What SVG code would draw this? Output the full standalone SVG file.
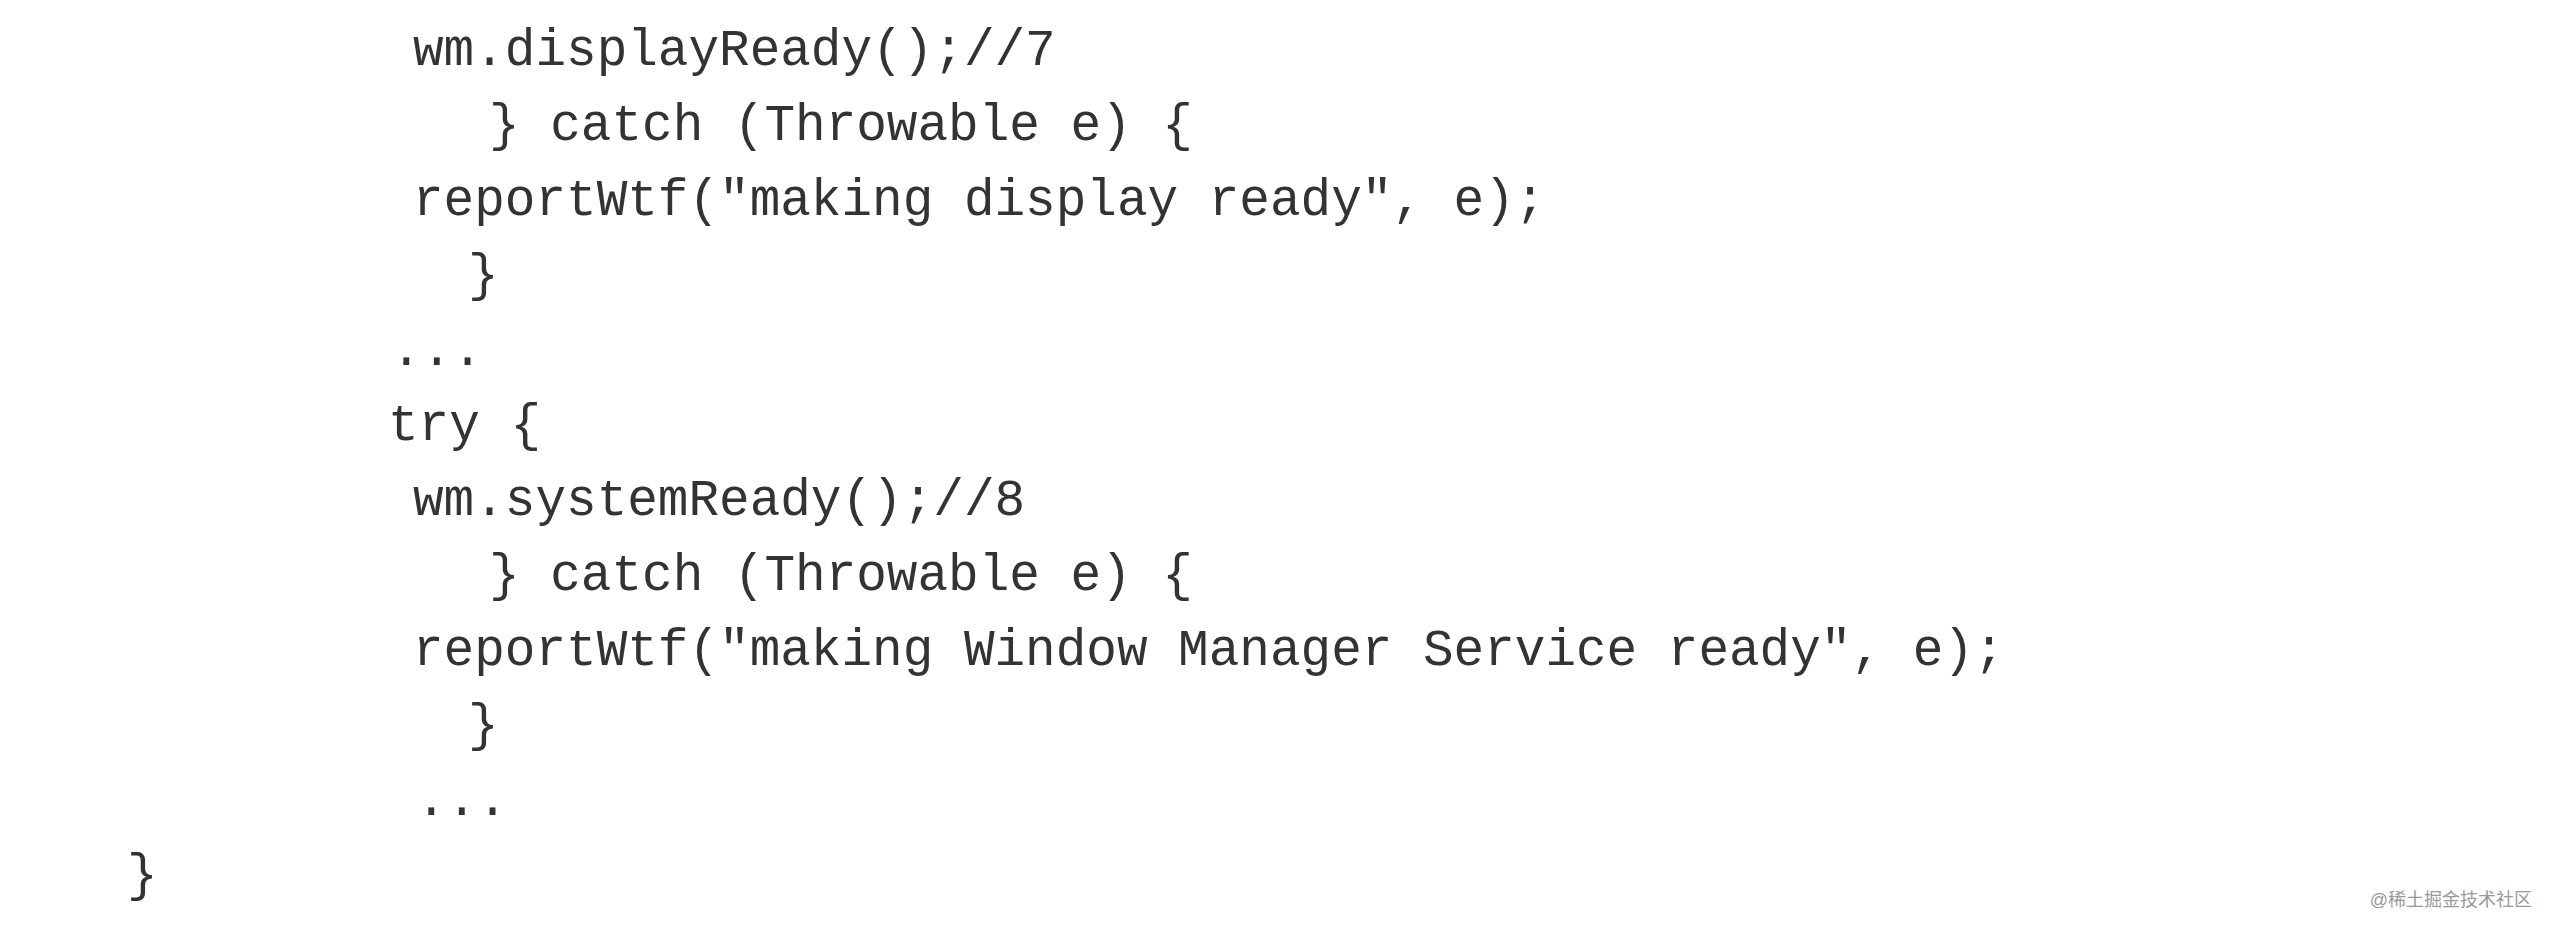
<svg xmlns="http://www.w3.org/2000/svg" width="2558" height="936" viewBox="0 0 2558 936">
<style>
.c{font-family:"Liberation Mono","Courier New",monospace;font-size:51px;fill:#333;white-space:pre}
.w{font-family:"Liberation Sans","Noto Sans CJK SC",sans-serif;font-size:18px;fill:#999;text-anchor:end}
</style>
<rect width="2558" height="936" fill="#fff"/>
<g id="code">
<text class="c" x="413" y="65">wm.displayReady();//7</text>
<text class="c" x="489" y="140">} catch (Throwable e) {</text>
<text class="c" x="413" y="215">reportWtf("making display ready", e);</text>
<text class="c" x="468" y="290">}</text>
<text class="c" x="391" y="365">...</text>
<text class="c" x="388" y="440">try {</text>
<text class="c" x="413" y="515">wm.systemReady();//8</text>
<text class="c" x="489" y="590">} catch (Throwable e) {</text>
<text class="c" x="413" y="665">reportWtf("making Window Manager Service ready", e);</text>
<text class="c" x="468" y="740">}</text>
<text class="c" x="416" y="815">...</text>
<text class="c" x="127" y="890">}</text>
</g>
<text class="w" x="2532" y="906">@稀土掘金技术社区</text>
</svg>
